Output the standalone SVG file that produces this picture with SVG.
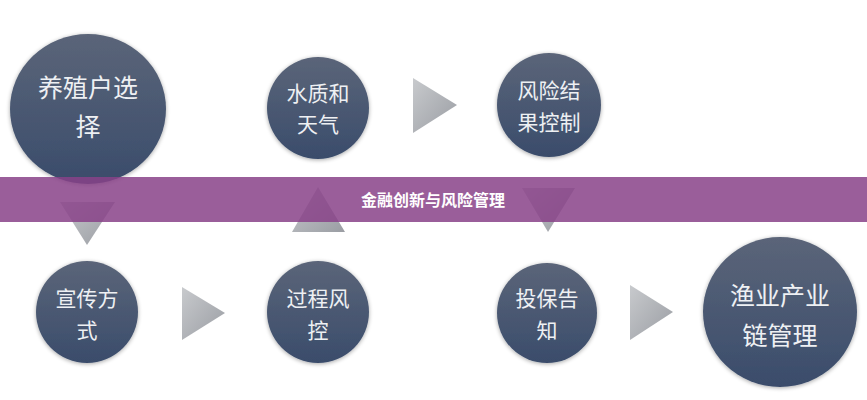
<svg xmlns="http://www.w3.org/2000/svg" width="867" height="400" viewBox="0 0 867 400">
<defs>
<linearGradient id="cg" x1="0" y1="0" x2="0" y2="1">
<stop offset="0" stop-color="#5b6579"/>
<stop offset="1" stop-color="#3a4c6b"/>
</linearGradient>
<linearGradient id="tgh" x1="0" y1="0" x2="1" y2="1">
<stop offset="0" stop-color="#c8cacd"/>
<stop offset="1" stop-color="#9a9da3"/>
</linearGradient>
<filter id="glow" x="-20%" y="-20%" width="140%" height="140%">
<feGaussianBlur in="SourceAlpha" stdDeviation="2"/>
<feOffset dy="1"/>
<feComponentTransfer><feFuncA type="linear" slope="0.35"/></feComponentTransfer>
<feMerge><feMergeNode/><feMergeNode in="SourceGraphic"/></feMerge>
</filter>
</defs>
<style>
.node{fill:url(#cg);filter:url(#glow)}
.lbl{font-family:"Noto Sans CJK SC","Noto Sans",sans-serif;fill:#eef0f3;text-anchor:middle;dominant-baseline:central}
.s{font-size:21px}
.b{font-size:25px}
.tri{fill:url(#tgh)}
.title{font-family:"Noto Sans CJK SC","Noto Sans",sans-serif;font-weight:bold;font-size:16px;fill:#ffffff;text-anchor:middle}
</style>
<rect width="867" height="400" fill="#ffffff"/>
<g id="n1">
<ellipse class="node" cx="88" cy="109" rx="78" ry="75"/>
<text class="lbl b" x="88" y="86">养殖户选</text>
<text class="lbl b" x="88" y="125">择</text>
</g>
<g id="n2">
<circle class="node" cx="318" cy="108" r="51"/>
<text class="lbl s" x="318" y="92">水质和</text>
<text class="lbl s" x="318" y="123">天气</text>
</g>
<g id="n3">
<circle class="node" cx="549" cy="105" r="52"/>
<text class="lbl s" x="549" y="89">风险结</text>
<text class="lbl s" x="549" y="121">果控制</text>
</g>
<g id="n4">
<circle class="node" cx="87" cy="312" r="51"/>
<text class="lbl s" x="87" y="297">宣传方</text>
<text class="lbl s" x="87" y="329">式</text>
</g>
<g id="n5">
<circle class="node" cx="318" cy="312" r="51"/>
<text class="lbl s" x="318" y="297">过程风</text>
<text class="lbl s" x="318" y="329">控</text>
</g>
<g id="n6">
<circle class="node" cx="547" cy="313" r="50"/>
<text class="lbl s" x="547" y="297">投保告</text>
<text class="lbl s" x="547" y="329">知</text>
</g>
<g id="n7">
<ellipse class="node" cx="780" cy="312" rx="77" ry="75"/>
<text class="lbl b" x="780" y="294">渔业产业</text>
<text class="lbl b" x="780" y="334">链管理</text>
</g>
<g id="connectors">
<polygon class="tri" points="413,78 457,105 413,133"/>
<polygon class="tri" points="182,287 225,313 182,340"/>
<polygon class="tri" points="630,285 673,312 630,340"/>
<polygon class="tri" points="60,202 115,202 87,245"/>
<polygon class="tri" points="318,187 345,232 292,232"/>
<polygon class="tri" points="522,188 575,188 548,232"/>
</g>
<g id="band">
<rect x="0" y="177" width="867" height="45" fill="#884288" fill-opacity="0.85"/>
<text class="title" x="433" y="206">金融创新与风险管理</text>
</g>
</svg>
